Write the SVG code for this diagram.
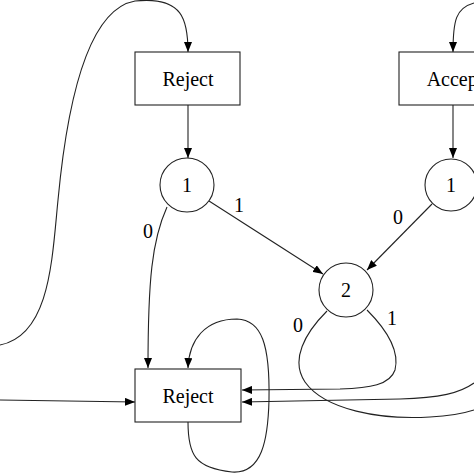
<svg xmlns="http://www.w3.org/2000/svg" width="474" height="474" viewBox="0 0 474 474">
<defs>
<marker id="arr" viewBox="0 0 10 8" refX="10" refY="4" markerWidth="10" markerHeight="8" markerUnits="userSpaceOnUse" orient="auto">
<path d="M0,0 L10,4 L0,8 Z" fill="#000"/>
</marker>
</defs>
<style>
.box{fill:#fff;stroke:#222;stroke-width:1.1}
.t{font-family:"Liberation Serif","Times New Roman",serif;font-size:20px;fill:#000;text-anchor:middle}
.e{fill:none;stroke:#222;stroke-width:1.1}
.a{marker-end:url(#arr)}
</style>
<rect width="474" height="474" fill="#fff"/>
<g id="connectors">
<path class="e a" d="M0,345 C50,335 52,260 58,200 C66,115 85,10 135,1 C183,-4 188,20 188,52"/>
<path class="e a" d="M474,3 C456,8 453,20 453,52"/>
<path class="e a" d="M188,105 L188,158"/>
<path class="e a" d="M453,105 L453,158"/>
<path class="e a" d="M209,201 L323,274"/>
<path class="e a" d="M167,207 C152,240 148,280 148,368"/>
<path class="e a" d="M432,204 L367,270"/>
<path class="e" d="M327,311 C305,333 290,360 305,382 C325,410 380,420 430,417 C450,416 465,413 474,410"/>
<path class="e a" d="M367,310 C385,328 400,350 395,370 C390,385 370,388 340,389 L242,390"/>
<path class="e a" d="M474,383 C460,393 440,398 400,399 L242,402"/>
<path class="e a" d="M0,400 L135,402"/>
<path class="e a" d="M188,422 C188,455 195,468 232,472 C262,474 268,440 269,400 C270,345 262,320 237,319 C205,319 189,340 188,368"/>
<text class="t" x="148" y="238">0</text>
<text class="t" x="239" y="212">1</text>
<text class="t" x="398" y="224">0</text>
<text class="t" x="298" y="332">0</text>
<text class="t" x="392" y="325">1</text>
</g>
<g id="reject-top">
<rect class="box" x="135" y="52" width="105" height="53"/>
<text class="t" x="188" y="86">Reject</text>
</g>
<g id="accept">
<rect class="box" x="399" y="52" width="108" height="53"/>
<text class="t" x="455" y="86">Accept</text>
</g>
<g id="n1-left">
<circle class="box" cx="187" cy="185" r="27"/>
<text class="t" x="187" y="192">1</text>
</g>
<g id="n1-right">
<circle class="box" cx="451" cy="185" r="26"/>
<text class="t" x="451" y="192">1</text>
</g>
<g id="n2">
<circle class="box" cx="346" cy="290" r="27"/>
<text class="t" x="346" y="297">2</text>
</g>
<g id="reject-bottom">
<rect class="box" x="135" y="369" width="106" height="53"/>
<text class="t" x="188" y="403">Reject</text>
</g>
</svg>
